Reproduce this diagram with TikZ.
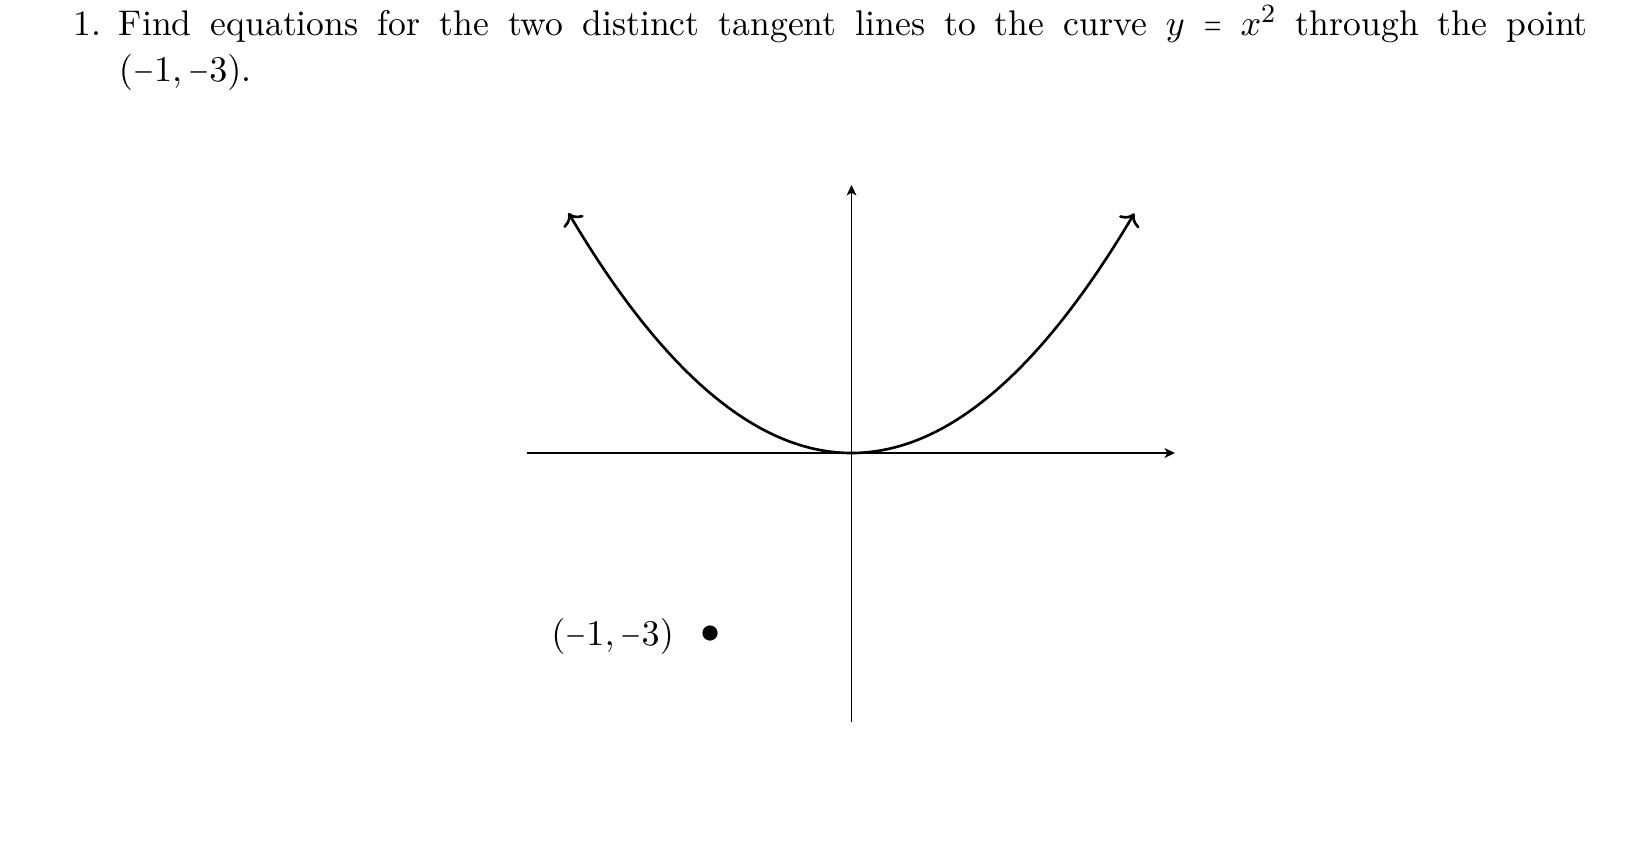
\documentclass[tikz,border=0pt]{standalone}
\usepackage{graphicx}
\usetikzlibrary{arrows.meta}
\newcommand\shortminus{\mathord{\scalebox{0.75}[1]{$-$}}}
\newcommand\shorteq{\scalebox{0.62}[1]{$=$}}
\begin{document}
\begin{tikzpicture}[x=0.30303pt,y=-0.30303pt,
  axisline/.style={line width=0.4pt,-{Stealth[length=3.2pt,width=3pt,inset=0.9pt]}},
  curveline/.style={thick,<->},
  txt/.style={inner sep=0pt,anchor=base west,font=\fontsize{10.8}{13}\selectfont},
  dot/.style={circle,fill=black,inner sep=0pt,minimum size=4.6pt}]
\useasboundingbox (0,0) rectangle (1650,856);
% question text
\node[txt] (num) at (73,36) {1.};
\node[txt] (line1) at (118.3,36) {\hbox to 445.1pt{Find equations for the two distinct tangent lines to the curve $y$ \shorteq{} $x^2$ through the point}};
\node[txt] (line2) at (118.3,82) {$(\shortminus1,\shortminus3)$.};
% axes
\coordinate (xl) at (527,453);
\coordinate (xr) at (1175,453);
\coordinate (yb) at (851.5,722);
\coordinate (yt) at (851.5,185);
\draw[axisline] (xl) -- (xr);
\draw[axisline] (yb) -- (yt);
% parabola and point
\begin{scope}[shift={(851.5,453)},x=42.879pt,y=18.182pt]
  \draw[curveline] plot[domain=-2:2,samples=120,smooth] (\x,{\x*\x});
  \node[dot] (P) at (-1,-3) {};
\end{scope}
\node[txt] (Plabel) at (550.7,645) {$(\shortminus1,\shortminus3)$};
\end{tikzpicture}
\end{document}
